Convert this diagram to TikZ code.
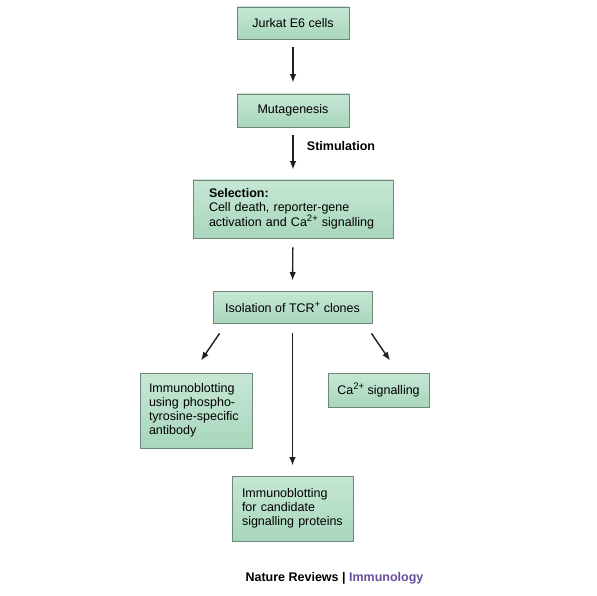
\documentclass[tikz,border=0pt]{standalone}
\usepackage{fontspec}
\setmainfont{Liberation Sans}
\usetikzlibrary{arrows.meta}

\definecolor{boxtop}{RGB}{198,231,212}
\definecolor{boxbottom}{RGB}{168,214,189}
\definecolor{boxline}{RGB}{110,135,122}
\definecolor{arrowline}{RGB}{30,30,30}
\definecolor{journal}{RGB}{106,78,158}

\newcommand{\upchar}[1]{\raisebox{0.42em}{\fontsize{9.5}{10}\selectfont #1}}

\tikzset{
  stage/.style={draw=boxline, line width=0.9pt, top color=boxtop, bottom color=boxbottom,
    inner sep=0pt, font=\fontsize{12.5}{14}\selectfont},
  flow/.style={draw=arrowline, line width=1.4pt, -{Latex[length=8.5pt,width=6.5pt]}},
  caption/.style={font=\bfseries\fontsize{12.5}{14}\selectfont}
}

\begin{document}
\begin{tikzpicture}
  \useasboundingbox[fill=white] (0pt,0pt) rectangle (597pt,-596pt);
  \node[stage, minimum width=112pt, minimum height=32pt] (jurkat) at (293pt,-23pt) {Jurkat E6 cells};
  \node[stage, minimum width=112pt, minimum height=33pt] (mutagen) at (293pt,-110.5pt) {Mutagenesis};
  \node[stage, minimum height=58pt, text width=168pt, inner xsep=16pt, align=left] (select) at (293pt,-209pt)
    {\textbf{Selection:}\\Cell death, reporter-gene\\activation and Ca\upchar{2+} signalling};
  \node[stage, minimum width=159pt, minimum height=32pt] (isol) at (292.5pt,-307pt) {Isolation of TCR\upchar{+} clones};
  \node[stage, minimum height=75pt, text width=94pt, inner xsep=9pt, align=left] (blotpy) at (196pt,-410.5pt)
    {Immunoblotting\\using phospho-\\tyrosine-specific\\antibody};
  \node[stage, minimum width=101pt, minimum height=34pt] (calc) at (378.5pt,-390pt) {Ca\upchar{2+} signalling};
  \node[stage, minimum height=65pt, text width=101pt, inner xsep=10pt, align=left] (blotcand) at (292.5pt,-508.5pt)
    {Immunoblotting\\for candidate\\signalling proteins};
  \node[caption] (stim) at (341pt,-146pt) {Stimulation};
  \node[caption] (credit) at (334.5pt,-578pt) {Nature Reviews | \textcolor{journal}{Immunology}};

  \draw[flow, shorten <=8pt, shorten >=11pt] (jurkat) -- (mutagen);
  \draw[flow, shorten <=8pt, shorten >=10pt] (mutagen) -- (select);
  \draw[flow, shorten <=9pt, shorten >=10pt] (select) -- (isol);
  \draw[flow, shorten <=10pt, shorten >=10pt] (isol) -- (blotcand);
  \draw[flow] ([shift={(7pt,-10pt)}]isol.south west) -- ([shift={(5pt,12pt)}]blotpy.north);
  \draw[flow] ([shift={(-1pt,-10pt)}]isol.south east) -- ([shift={(11.5pt,12pt)}]calc.north);
\end{tikzpicture}
\end{document}
